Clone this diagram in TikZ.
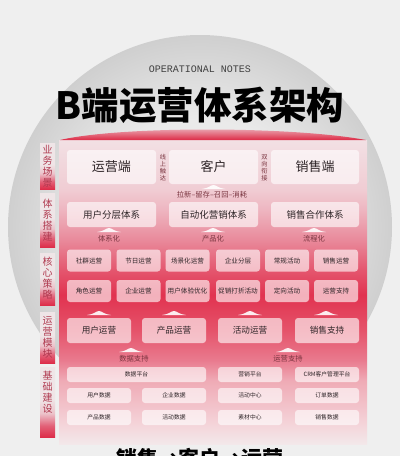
\documentclass[tikz,border=0pt]{standalone}
\usepackage{fontspec}
\newfontfamily\cjk{Noto Sans CJK SC}
\newfontfamily\monof{Liberation Mono}
\definecolor{bg}{HTML}{EFEFEF}
\definecolor{circin}{HTML}{EAEAEA}
\definecolor{circout}{HTML}{CFCFCF}
\definecolor{p0}{HTML}{F3E8EA}
\definecolor{p1}{HTML}{F4D0D6}
\definecolor{p2}{HTML}{EFAAB5}
\definecolor{p3}{HTML}{E97A8E}
\definecolor{p4}{HTML}{E5536A}
\definecolor{p5}{HTML}{E13350}
\definecolor{p6}{HTML}{E4566E}
\definecolor{p7}{HTML}{E98A9B}
\definecolor{p8}{HTML}{EEB5C0}
\definecolor{p9}{HTML}{F0CCD3}
\definecolor{p10}{HTML}{F2E0E4}
\definecolor{sred}{HTML}{DD2E4A}
\definecolor{smid}{HTML}{E26077}
\definecolor{slight}{HTML}{ECC3CB}
\definecolor{spale}{HTML}{EFE5E7}
\definecolor{sidetxtc}{HTML}{B03A50}
\definecolor{boxtxt}{HTML}{2E2528}
\definecolor{lblc}{HTML}{7A3540}
\definecolor{arcred}{HTML}{DD2A45}
\definecolor{arcpink}{HTML}{EDC3CA}
\pgfdeclareverticalshading{panelsh}{100bp}{color(0bp)=(p0); color(25bp)=(p0); color(28.9bp)=(p1); color(35.5bp)=(p2); color(38.8bp)=(p3); color(43.75bp)=(p4); color(49.5bp)=(p5); color(53.6bp)=(p6); color(58.6bp)=(p7); color(63.5bp)=(p8); color(66.8bp)=(p9); color(75bp)=(p10); color(100bp)=(p10)}
\pgfdeclareverticalshading{sidesh}{100bp}{color(0bp)=(sred); color(25bp)=(sred); color(33bp)=(smid); color(42bp)=(slight); color(52bp)=(spale); color(100bp)=(spale)}
\pgfdeclareradialshading{circsh}{\pgfpoint{0bp}{0bp}}{color(0bp)=(circin); color(14bp)=(circin); color(25bp)=(circout); color(50bp)=(circout)}
\tikzset{
  box/.style={rounded corners=3pt, fill=white, fill opacity=0.62, text opacity=1, inner sep=0pt, text=boxtxt},
  bigbox/.style={box, font=\cjk\fontsize{13}{15}\selectfont},
  midbox/.style={box, font=\cjk\fontsize{9.5}{11}\selectfont},
  smallbox/.style={box, minimum width=44pt, minimum height=22pt, font=\cjk\fontsize{6.6}{8}\selectfont},
  modbox/.style={box, minimum width=64pt, minimum height=25pt, font=\cjk\fontsize{8.6}{10}\selectfont},
  basebox/.style={box, minimum height=15pt, font=\cjk\fontsize{5.8}{7}\selectfont},
  sidestrip/.style={shading=sidesh, draw=none},
  sidetxt/.style={text=sidetxtc, align=center, font=\cjk\fontsize{10}{11}\selectfont, inner sep=0pt},
  vtxt/.style={text=lblc, align=center, font=\cjk\fontsize{6.2}{7}\selectfont, inner sep=0pt},
  lbl/.style={text=lblc, font=\cjk\fontsize{7.3}{8}\selectfont, inner sep=0pt},
  mnd/.pic={\fill[white, opacity=0.9] (-12,0) .. controls (-5,-0.5) and (-3,-4) .. (0,-4) .. controls (3,-4) and (5,-0.5) .. (12,0) -- cycle;}
}
\begin{document}
\begin{tikzpicture}[x=1pt,y=-1pt]
\useasboundingbox (0,0) rectangle (400,456);
\clip (0,0) rectangle (400,456);
\fill[bg] (0,0) rectangle (400,456);
% big gray circle
\shade[shading=circsh] (200,227) circle (192);
% titles
\node[font=\monof\fontsize{10}{12}\selectfont, text=black!75] (sub) at (200,69) {OPERATIONAL NOTES};
\node[font=\cjk\bfseries\fontsize{37.5}{42}\selectfont, text=black] (title) at (200,105) {B端运营体系架构};
% panel
\shade[shading=panelsh] (59,140) rectangle (367,444);
% red arc at top
\shade[top color=arcpink, bottom color=arcred] (60,140) .. controls (120,126) and (290,126) .. (366,140) -- cycle;
% side strips
\shade[sidestrip] (40,143) rectangle (55,189);
\shade[sidestrip] (40,193) rectangle (55,247);
\shade[sidestrip] (40,253) rectangle (55,305);
\shade[sidestrip] (40,312) rectangle (55,363);
\shade[sidestrip] (40,367) rectangle (55,437);
\node[sidetxt] (s1) at (47.5,166.5) {业\\务\\场\\景};
\node[sidetxt] (s2) at (47.5,220) {体\\系\\搭\\建};
\node[sidetxt] (s3) at (47.5,278.5) {核\\心\\策\\略};
\node[sidetxt] (s4) at (47.5,337) {运\\营\\模\\块};
\node[sidetxt] (s5) at (47.5,392.5) {基\\础\\建\\设};
% row 1
\node[bigbox, minimum width=89pt, minimum height=34pt] (r1a) at (111.5,167) {运营端};
\node[bigbox, minimum width=89pt, minimum height=34pt] (r1b) at (213.5,167) {客户};
\node[bigbox, minimum width=88pt, minimum height=34pt] (r1c) at (315,167) {销售端};
\node[vtxt] (v1) at (163,168) {线\\上\\触\\达};
\node[vtxt] (v2) at (264.5,168) {双\\向\\衔\\接};
\pic at (213.5,189) {mnd};
\node[lbl] (l0) at (212,195) {拉新–留存–召回–消耗};
% row 2
\node[midbox, minimum width=89pt, minimum height=25pt] (r2a) at (111.5,214.5) {用户分层体系};
\node[midbox, minimum width=89pt, minimum height=25pt] (r2b) at (213.5,214.5) {自动化营销体系};
\node[midbox, minimum width=88pt, minimum height=25pt] (r2c) at (315,214.5) {销售合作体系};
\pic at (109,232) {mnd};
\pic at (213,232) {mnd};
\pic at (314,232) {mnd};
\node[lbl] (l1) at (109,239) {体系化};
\node[lbl] (l2) at (213,239) {产品化};
\node[lbl] (l3) at (314,239) {流程化};
% row 3
\node[smallbox] (c1) at (89,260.5) {社群运营};
\node[smallbox] (c2) at (138.5,260.5) {节日运营};
\node[smallbox] (c3) at (187.5,260.5) {场景化运营};
\node[smallbox] (c4) at (238,260.5) {企业分层};
\node[smallbox] (c5) at (287,260.5) {常规活动};
\node[smallbox] (c6) at (336,260.5) {销售运营};
\node[smallbox] (d1) at (89,291) {角色运营};
\node[smallbox] (d2) at (138.5,291) {企业运营};
\node[smallbox] (d3) at (187.5,291) {用户体验优化};
\node[smallbox] (d4) at (238,291) {促销打折活动};
\node[smallbox] (d5) at (287,291) {定向活动};
\node[smallbox] (d6) at (336,291) {运营支持};
\pic at (99,315) {mnd};
\pic at (174,315) {mnd};
\pic at (250,315) {mnd};
\pic at (326,315) {mnd};
% row 4
\node[modbox] (m1) at (99,330.5) {用户运营};
\node[modbox] (m2) at (174,330.5) {产品运营};
\node[modbox] (m3) at (250,330.5) {活动运营};
\node[modbox] (m4) at (327,330.5) {销售支持};
\pic at (131,352) {mnd};
\pic at (288,352) {mnd};
\node[lbl] (l4) at (134,359) {数据支持};
\node[lbl] (l5) at (288,359) {运营支持};
% row 5
\node[basebox, minimum width=139pt] (f1) at (136.5,374.5) {数据平台};
\node[basebox, minimum width=64pt] (f2) at (250,374.5) {营销平台};
\node[basebox, minimum width=64pt] (f3) at (327,374.5) {CRM客户管理平台};
\node[basebox, minimum width=64pt] (g1) at (99,395.5) {用户数据};
\node[basebox, minimum width=64pt] (g2) at (174,395.5) {企业数据};
\node[basebox, minimum width=64pt] (g3) at (250,395.5) {活动中心};
\node[basebox, minimum width=64pt] (g4) at (327,395.5) {订单数据};
\node[basebox, minimum width=64pt] (h1) at (99,417.5) {产品数据};
\node[basebox, minimum width=64pt] (h2) at (174,417.5) {活动数据};
\node[basebox, minimum width=64pt] (h3) at (250,417.5) {素材中心};
\node[basebox, minimum width=64pt] (h4) at (327,417.5) {销售数据};
% bottom title
\node[font=\cjk\bfseries\fontsize{21}{24}\selectfont, text=black] (bottom) at (200,459) {销售→客户→运营};
\end{tikzpicture}
\end{document}
